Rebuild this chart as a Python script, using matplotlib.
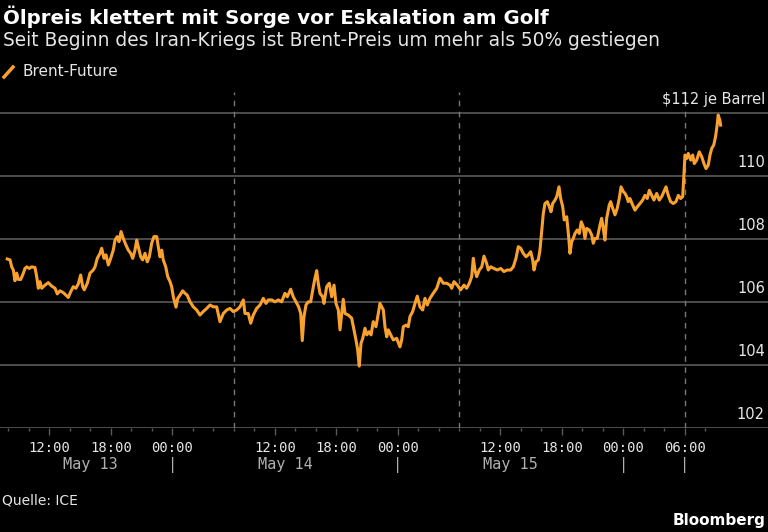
import matplotlib
matplotlib.use("Agg")
import matplotlib.pyplot as plt
from matplotlib.lines import Line2D
import matplotlib.transforms as mtransforms

# trading hours since 12:00 on May 13 (session gaps collapsed)
hours = [-4.10, -3.83, -3.67, -3.51, -3.35, -3.18, -3.02, -2.79, -2.60, -2.37, -2.20, -1.95, -1.72,
         -1.40, -1.23, -1.07, -0.91, -0.74, -0.42, -0.10, 0.23, 0.56, 0.78, 1.04, 1.37, 1.63, 1.85,
         2.09, 2.34, 2.60, 2.83, 3.06, 3.26, 3.41, 3.71, 3.97, 4.29, 4.46, 4.68, 4.95, 5.11, 5.34,
         5.53, 5.76, 5.99, 6.24, 6.41, 6.63, 6.80, 7.00, 7.22, 7.48, 7.71, 7.94, 8.14, 8.36, 8.53,
         8.68, 8.92, 9.11, 9.34, 9.56, 9.76, 9.99, 10.21, 10.48, 10.63, 10.80, 10.97, 11.12, 11.36,
         11.55, 11.78, 11.94, 12.10, 12.36, 12.53, 12.75, 13.01, 13.24, 13.46, 13.66, 13.73, 14.05,
         14.38, 14.70, 15.02, 15.36, 15.68, 16.00, 16.33, 16.65, 16.98, 17.31, 17.63, 17.95, 18.28,
         18.60, 18.93, 19.09, 19.41, 19.65, 19.90, 20.23, 20.56, 20.88, 21.14, 21.37, 21.70, 22.02,
         22.34, 22.67, 22.99, 23.22, 23.55, 23.80, 24.07, 24.33, 24.53, 24.68, 24.85, 25.04, 25.27,
         25.50, 25.76, 25.92, 26.09, 26.24, 26.41, 26.67, 26.80, 27.06, 27.32, 27.55, 27.78, 27.97,
         28.20, 28.36, 28.53, 28.68, 28.85, 29.17, 29.50, 29.73, 29.92, 30.09, 30.24, 30.41, 30.58,
         30.80, 30.97, 31.19, 31.39, 31.61, 31.87, 32.10, 32.26, 32.59, 32.75, 32.92, 33.07, 33.31,
         33.56, 33.89, 34.21, 34.38, 34.54, 34.80, 35.02, 35.19, 35.45, 35.68, 35.90, 36.16, 36.43,
         36.65, 36.88, 37.14, 37.46, 37.80, 38.12, 38.44, 38.77, 39.09, 39.26, 39.48, 39.80, 40.14,
         40.46, 40.72, 40.98, 41.21, 41.37, 41.53, 41.70, 41.95, 42.19, 42.41, 42.67, 42.83, 43.06,
         43.39, 43.71, 44.04, 44.36, 44.68, 45.01, 45.27, 45.53, 45.76, 45.99, 46.24, 46.51, 46.73,
         46.97, 47.16, 47.29, 47.48, 47.71, 47.87, 48.04, 48.20, 48.36, 48.59, 48.78, 48.95, 49.11,
         49.34, 49.51, 49.73, 49.89, 50.09, 50.24, 50.48, 50.67, 50.80, 50.97, 51.12, 51.29, 51.51,
         51.71, 51.90, 52.10, 52.26, 52.43, 52.68, 52.92, 53.07, 53.24, 53.46, 53.73, 53.89, 54.05,
         54.21, 54.38, 54.63, 54.77, 54.97, 55.19, 55.41, 55.61, 55.78, 56.00, 56.17, 56.33, 56.49,
         56.65, 56.92, 57.14, 57.37, 57.63, 57.89, 58.12, 58.34, 58.54, 58.77, 58.99, 59.26, 59.51,
         59.75, 59.97, 60.17, 60.39, 60.62, 60.88, 61.14, 61.37, 61.60, 61.80, 61.92, 62.02, 62.19,
         62.34, 62.58, 62.77, 62.93, 63.16, 63.41, 63.65, 63.87, 64.07, 64.29, 64.46, 64.63, 64.83,
         65.00, 65.16, 65.26, 65.42, 65.50]
brent = [107.35, 107.32, 107.10, 107.00, 106.66, 106.90, 106.70, 106.70, 106.84, 107.05, 107.10, 107.05, 107.10,
         107.08, 106.79, 106.42, 106.63, 106.42, 106.52, 106.60, 106.49, 106.42, 106.24, 106.34, 106.28, 106.20, 106.13,
         106.31, 106.47, 106.42, 106.56, 106.84, 106.47, 106.37, 106.58, 106.90, 107.00, 107.10, 107.37, 107.53, 107.69, 107.37,
         107.48, 107.16, 107.37, 107.63, 107.95, 108.06, 107.90, 108.22, 108.00, 107.79, 107.63, 107.53, 107.37, 107.63, 107.95,
         107.74, 107.42, 107.32, 107.53, 107.26, 107.42, 107.85, 108.06, 108.06, 107.74, 107.42, 107.63, 107.32, 107.10,
         106.79, 106.63, 106.47, 106.15, 105.82, 106.10, 106.20, 106.34, 106.26, 106.20, 106.05, 105.99, 105.83,
         105.73, 105.57, 105.68, 105.78, 105.89, 105.83, 105.83, 105.36, 105.62, 105.73, 105.78, 105.68, 105.73,
         105.83, 106.05, 105.62, 105.62, 105.31, 105.57, 105.78, 105.89, 106.10, 105.94, 106.05, 106.05, 105.99,
         106.05, 105.99, 106.26, 106.15, 106.39, 106.15, 105.99, 105.83, 105.62, 104.76, 105.52, 105.89, 105.99,
         105.99, 106.47, 106.74, 106.98, 106.58, 106.26, 106.15, 105.94, 106.47, 106.58, 106.15, 106.52, 105.94,
         105.73, 105.10, 105.62, 106.07, 105.62, 105.57, 105.47, 105.10, 104.78, 104.46, 103.95, 104.67, 104.83,
         105.15, 104.94, 105.04, 104.94, 105.36, 105.20, 105.62, 105.94, 105.73, 105.20, 104.88, 105.10, 104.94,
         104.78, 104.83, 104.56, 104.78, 105.20, 105.25, 105.20, 105.52, 105.68, 105.94, 106.17, 105.83, 105.73,
         106.10, 105.89, 106.10, 106.26, 106.42, 106.74, 106.58, 106.58, 106.52, 106.42, 106.63, 106.52, 106.37,
         106.52, 106.42, 106.58, 106.79, 107.37, 107.00, 106.79, 107.00, 107.10, 107.44, 107.21, 107.00, 107.10,
         107.05, 107.00, 107.05, 106.95, 107.00, 107.00, 107.10, 107.37, 107.74, 107.69, 107.53, 107.42, 107.48,
         107.58, 107.32, 107.00, 107.26, 107.32, 107.63, 108.22, 108.80, 109.11, 109.17, 109.01, 108.85, 109.11,
         109.22, 109.33, 109.64, 109.27, 109.01, 108.59, 108.69, 108.06, 107.53, 107.90, 108.00, 108.16, 108.27,
         108.16, 108.53, 108.37, 108.00, 108.32, 108.27, 108.11, 107.85, 108.00, 108.00, 108.43, 108.64, 108.32,
         107.95, 108.64, 109.06, 109.17, 108.96, 108.75, 108.96, 109.27, 109.64, 109.49, 109.43, 109.33, 109.17,
         109.27, 109.06, 108.90, 109.01, 109.11, 109.22, 109.37, 109.27, 109.53, 109.37, 109.22, 109.43, 109.22,
         109.33, 109.49, 109.64, 109.37, 109.17, 109.11, 109.17, 109.37, 109.27, 109.33, 110.02, 110.65, 110.54,
         110.70, 110.49, 110.65, 110.38, 110.49, 110.75, 110.60, 110.38, 110.22, 110.33, 110.65, 110.86, 110.97,
         111.23, 111.60, 111.92, 111.76, 111.60]

y_ticks = [102, 104, 106, 108, 110, 112]
y_labels = ["102", "104", "106", "108", "110", "$112 je Barrel"]
x_major = [0, 6, 12, 22, 28, 34, 44, 50, 56, 62]
x_major_labels = ["12:00", "18:00", "00:00", "12:00", "18:00", "00:00", "12:00", "18:00", "00:00", "06:00"]
session_breaks = [18, 40, 62]
day_labels = ["May 13", "May 14", "May 15"]
day_centers = [4, 23, 45]
day_seps = [12, 34, 56, 62]

orange = "#f9a12e"
grid_c = "#5a5a5a"
W, H = 768, 532

fig = plt.figure(figsize=(7.68, 5.32), dpi=100, facecolor="black")
ax_bottom, ax_top = 427.5, 92
ax = fig.add_axes([0, 1 - ax_bottom / H, 1, (ax_bottom - ax_top) / H])
ax.set_facecolor("black")
ax.set_xlim(-4.81, 70.12)
ax.set_ylim(102, 102 + (ax_bottom - ax_top) / 31.5)
for s in ax.spines.values():
    s.set_visible(False)

for v in y_ticks:
    ax.axhline(v, color=grid_c, lw=1.2, zorder=1)
for b in session_breaks:
    ax.axvline(b, color="#777777", lw=1, ls=(0, (4, 4)), zorder=1)

ax.plot(hours, brent, color=orange, lw=2.2, solid_joinstyle="round", zorder=3)

ax.set_yticks([])
trans = mtransforms.blended_transform_factory(ax.transAxes, ax.transData)
lift = mtransforms.ScaledTranslation(0, 4 / 72, fig.dpi_scale_trans)
for v, lab in zip(y_ticks, y_labels):
    ax.text(0.996, v, lab, transform=trans + lift, ha="right", va="bottom", color="#e6e6e6",
            fontsize=10.5, fontfamily="DejaVu Sans")

ax.set_xticks(x_major)
ax.set_xticklabels(x_major_labels, fontfamily="DejaVu Sans Mono", fontsize=10, color="#e6e6e6")
ax.set_xticks(range(-4, 66, 2), minor=True)
ax.tick_params(axis="x", which="major", length=5, width=1, color=grid_c, pad=5)
ax.tick_params(axis="x", which="minor", length=2.2, width=1, color=grid_c)

xt = ax.get_xaxis_transform()
row2 = -(465 - ax_bottom) / (ax_bottom - ax_top)
for c, lab in zip(day_centers, day_labels):
    ax.text(c, row2, lab, transform=xt, ha="center", va="center", color="#b0b0b0",
            fontsize=11, fontfamily="DejaVu Sans Mono")
for c in day_seps:
    ax.text(c, row2, "|", transform=xt, ha="center", va="center", color="#b0b0b0",
            fontsize=11, fontfamily="DejaVu Sans Mono")

fig.text(3 / W, 1 - 17 / H, "Ölpreis klettert mit Sorge vor Eskalation am Golf", color="white",
         fontsize=14.2, fontweight="bold", va="center", ha="left")
fig.text(3 / W, 1 - 41 / H, "Seit Beginn des Iran-Kriegs ist Brent-Preis um mehr als 50% gestiegen",
         color="#e6e6e6", fontsize=13.4, va="center", ha="left")
fig.add_artist(Line2D([4 / W, 13 / W], [1 - 77 / H, 1 - 67 / H], color=orange, lw=2.5,
                      transform=fig.transFigure))
fig.text(22 / W, 1 - 72 / H, "Brent-Future", color="#e6e6e6", fontsize=11, va="center", ha="left")
fig.text(2 / W, 1 - 500 / H, "Quelle: ICE", color="#e6e6e6", fontsize=10, va="center", ha="left")
fig.text(766 / W, 1 - 520 / H, "Bloomberg", color="white", fontsize=11, fontweight="bold",
         va="center", ha="right")

fig.savefig("out.png", dpi=100, facecolor="black")
